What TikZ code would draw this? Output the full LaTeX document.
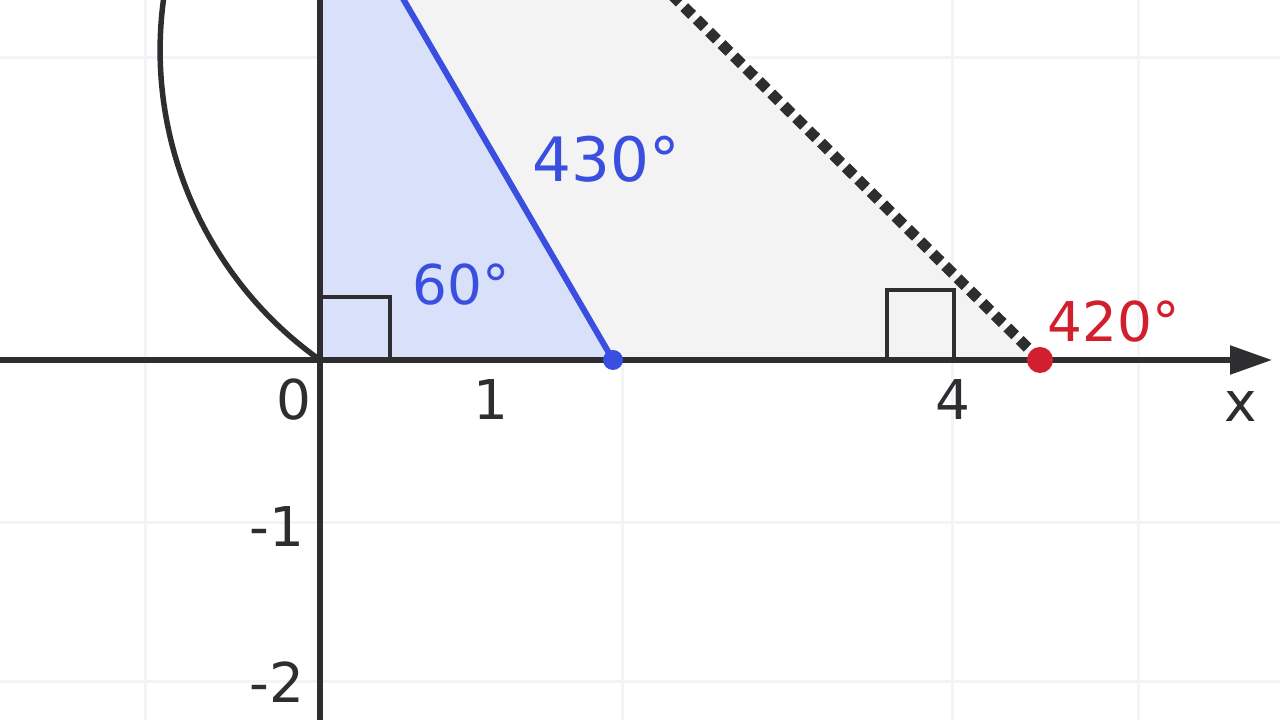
\documentclass[tikz,border=0pt]{standalone}
\usepackage{fontspec}
\setmainfont{DejaVu Sans}
\usepackage{xcolor}
\usetikzlibrary{arrows.meta}
\definecolor{axisgray}{HTML}{2E2E30}
\definecolor{angblue}{HTML}{3A4FE0}
\definecolor{angred}{HTML}{D21F2E}
\definecolor{fillblue}{HTML}{D9E0FA}
\definecolor{fillgray}{HTML}{F3F3F3}
\definecolor{gridgray}{HTML}{F2F4F7}

\begin{document}
\begin{tikzpicture}
\tikzset{axis/.style = {line width=0.055cm, draw=axisgray}}
\tikzset{edge/.style = {axis, -{Triangle[length=0.42cm,width=0.28cm]}}}
\tikzset{gridline/.style = {line width=0.03cm, draw=gridgray}}
\tikzset{rightangle/.style = {line width=0.045cm, draw=axisgray}}
\tikzset{ticklabel/.style = {anchor=base, inner sep=0pt, text=axisgray, font=\fontsize{15.6}{18}\selectfont}}
\tikzset{anglabel/.style = {anchor=base, inner sep=0pt, font=\fontsize{15.6}{18}\selectfont}}
\tikzset{ptdot/.style = {shape=circle, inner sep=0pt, minimum size=#1}}

\useasboundingbox (-3.2,-3.6) rectangle (9.6,3.6);
\clip (-3.2,-3.6) rectangle (9.6,3.6);
\fill[white] (-3.2,-3.6) rectangle (9.6,3.6);

% grid
\foreach \gx in {-1.75,3.02,6.32,8.18}
  \draw[gridline] (\gx,-3.6) -- (\gx,3.6);
\foreach \gy in {3.02,-1.63,-3.22}
  \draw[gridline] (-3.2,\gy) -- (9.6,\gy);

% points
\coordinate (O) at (0,0);
\coordinate (B) at (2.93,0);
\coordinate (Btop) at (0.78,3.7);
\coordinate (R) at (7.2,0);
\coordinate (Rtop) at (3.47,3.7);
\coordinate (Ytop) at (0,3.7);
\coordinate (Ybot) at (0,-3.7);
\coordinate (Xl) at (-3.3,0);
\coordinate (Xr) at (9.52,0);

% regions
\fill[fillgray] (Btop) -- (Rtop) -- (R) -- (B) -- cycle;
\fill[fillblue] (Ytop) -- (Btop) -- (B) -- (O) -- cycle;

% lines
\draw[axis] (O) arc[start angle=234.6, end angle=170, radius=3.8];
\draw[line width=0.11cm, draw=axisgray, dash pattern=on 0.11cm off 0.065cm] (R) -- (Rtop);
\draw[line width=0.06cm, draw=angblue] (B) -- (Btop);
\draw[axis] (Ybot) -- (Ytop);
\draw[edge] (Xl) -- (Xr);

% right angles
\draw[rightangle] (0,0.63) -- (0.70,0.63) -- (0.70,0);
\draw[rightangle] (5.67,0) -- (5.67,0.70) -- (6.34,0.70) -- (6.34,0);

% dots
\node[ptdot=0.2cm, fill=angblue] (bdot) at (B) {};
\node[ptdot=0.26cm, fill=angred] (rdot) at (R) {};

% labels
\node[anglabel, text=angblue, font=\fontsize{17.4}{20}\selectfont] (a430) at (2.86,1.78) {430°};
\node[anglabel, text=angblue] (a60) at (1.41,0.55) {60°};
\node[anglabel, text=angred] (a420) at (7.94,0.18) {420°};
\node[ticklabel] (t0) at (-0.26,-0.6) {0};
\node[ticklabel] (t1) at (1.71,-0.6) {1};
\node[ticklabel] (t4) at (6.33,-0.6) {4};
\node[ticklabel] (tx) at (9.21,-0.62) {x};
\node[ticklabel] (tm1) at (-0.43,-1.87) {-1};
\node[ticklabel] (tm2) at (-0.43,-3.43) {-2};

\end{tikzpicture}
\end{document}
